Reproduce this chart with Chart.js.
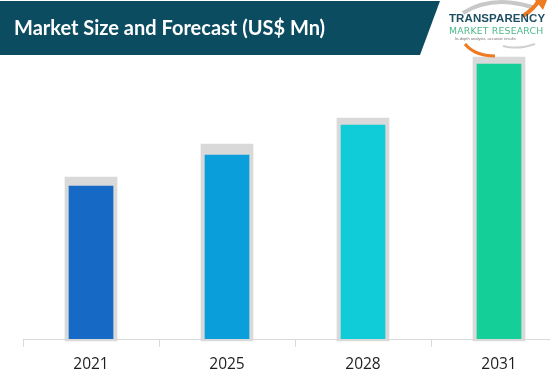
<!DOCTYPE html>
<html>
<head>
<meta charset="utf-8">
<script src="https://cdn.jsdelivr.net/npm/chart.js@4/dist/chart.umd.min.js"></script>
<style>
  html, body { margin: 0; padding: 0; background: #ffffff; overflow: hidden; width: 550px; height: 375px; }
  #wrap { position: absolute; left: 0; top: 0; width: 567px; height: 375px; }
  #banner { position: absolute; left: 0; top: 1px; width: 440px; height: 54px; background: #0c4c61;
            clip-path: polygon(0 0, 440px 0, 420px 54px, 0 54px); }
  #title { position: absolute; left: 14px; top: 15px; color: #ffffff; font-family: Lato, "Open Sans", sans-serif;
           font-weight: bold; font-size: 20px; white-space: nowrap; }
  #logo { position: absolute; left: 443px; top: 0; width: 107px; height: 60px; }
  #logo .t1 { position: absolute; left: 6px; top: 12px; font-family: "Liberation Sans", sans-serif; font-weight: bold;
              font-size: 11.5px; color: #1d4f63; letter-spacing: 0.1px; white-space: nowrap; }
  #logo .t2 { position: absolute; left: 6px; top: 25px; font-family: "DejaVu Sans", sans-serif; font-weight: normal;
              font-size: 9.3px; color: #4cb88a; letter-spacing: 0.2px; white-space: nowrap; }
  #logo .t3 { position: absolute; left: 12px; top: 36px; font-family: "Liberation Sans", sans-serif;
              font-size: 4px; color: #777; white-space: nowrap; }
</style>
</head>
<body>
<div id="wrap"><canvas id="c"></canvas></div>
<div id="banner"></div>
<div id="title">Market Size and Forecast (US$ Mn)</div>
<div id="logo">
  <svg width="107" height="60" style="position:absolute;left:0;top:0">
    <path d="M20 13 Q 50 -6 92 8" stroke="#c8c8c8" stroke-width="4" fill="none"/>
    <path d="M80 16 Q 92 8 96 0" stroke="#f07a22" stroke-width="4" fill="none"/>
    <polygon points="92,0 104,0 100,10" fill="#f07a22"/>
    <path d="M22 44 Q 32 56 52 56" stroke="#f07a22" stroke-width="3" fill="none"/>
    <path d="M60 46 Q 75 50 92 44" stroke="#d0d0d0" stroke-width="2" fill="none"/>
  </svg>
  <div class="t1">TRANSPARENCY</div>
  <div class="t2">MARKET RESEARCH</div>
  <div class="t3">In-depth analysis, accurate results</div>
</div>
<script>
const categories = ['2021', '2025', '2028', '2031'];
const marketSize = [153, 184, 214, 275];
const shadowSize = [162, 195, 221, 282];
const barColors = ['#1769c6', '#0a9fdb', '#10ccd8', '#14cf98'];

new Chart(document.getElementById('c'), {
  type: 'bar',
  data: {
    labels: categories,
    datasets: [
      {
        data: marketSize,
        backgroundColor: barColors,
        barThickness: 44,
        grouped: false,
        order: 1
      },
      {
        data: shadowSize,
        backgroundColor: '#d9d9d9',
        barThickness: 52,
        grouped: false,
        base: -2,
        clip: false,
        order: 2
      }
    ]
  },
  options: {
    responsive: true,
    maintainAspectRatio: false,
    animation: false,
    layout: { padding: { top: 39, left: 23, right: 0, bottom: 0 } },
    plugins: { legend: { display: false }, tooltip: { enabled: false } },
    scales: {
      x: {
        offset: true,
        afterFit: (scale) => { scale.height = 36; },
        grid: { offset: true, drawOnChartArea: false, tickLength: 8, color: '#d9d9d9', lineWidth: 1 },
        border: { display: true, color: '#d9d9d9', width: 1 },
        ticks: { color: '#1e1e1e', font: { family: '"Open Sans", sans-serif', size: 15.5 }, padding: 8 }
      },
      y: {
        display: false,
        min: 0,
        max: 300
      }
    }
  }
});
</script>
</body>
</html>
